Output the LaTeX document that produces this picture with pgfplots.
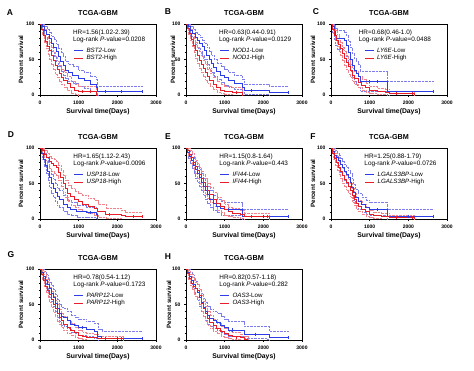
\documentclass[border=0pt]{standalone}
\usepackage{fontspec}
\setmainfont{Liberation Sans}
\usepackage{pgfplots}
\pgfplotsset{compat=1.18}
\definecolor{kmblue}{RGB}{45,62,232}
\definecolor{kmred}{RGB}{232,30,40}
\definecolor{ciblue}{RGB}{125,125,238}
\definecolor{cired}{RGB}{242,130,140}
\pgfplotsset{
 km/.style={scale only axis, width=116pt, height=71pt, anchor=south west,
  xmin=0, xmax=3000, ymin=0, ymax=100,
  axis line style={line width=0.7pt},
  xtick={0,1000,2000,3000}, ytick={0,50,100},
  minor x tick num=9, minor y tick num=4,
  tick align=outside, tick pos=left,
  major tick length=2pt, minor tick length=1.3pt,
  every tick/.style={black, line width=0.5pt},
  ticklabel style={font=\fontsize{5}{5}\selectfont\bfseries},
  /pgf/number format/assume math mode=true,
  /pgf/number format/1000 sep={},
  clip mode=individual},
 lo/.style={kmblue, line width=1pt, const plot, mark=none},
 hi/.style={kmred, line width=1pt, const plot, mark=none},
 loc/.style={kmblue, only marks, mark=|, mark size=1.6pt, mark options={line width=0.5pt}},
 hic/.style={kmred, only marks, mark=|, mark size=1.6pt, mark options={line width=0.5pt}},
 loci/.style={ciblue, line width=0.4pt, const plot, mark=none, dash pattern=on 0.7pt off 0.7pt},
 hici/.style={cired, line width=0.4pt, const plot, mark=none, dash pattern=on 0.7pt off 0.7pt},
}
% #1 HR x, #2 HR text, #3 P text, #4 gene, #5 legend line start, #6 legend line end, #7 legend text x
\newcommand{\kmann}[7]{%
 \node[anchor=west, inner sep=0pt, font=\fontsize{6.4}{7}\selectfont] at (axis cs:#1,88) {HR=#2};
 \node[anchor=west, inner sep=0pt, font=\fontsize{6.4}{7}\selectfont] at (axis cs:#1,77) {Log-rank \textit{P}-value=#3};
 \draw[kmblue, line width=1pt] (axis cs:#5,62.5) -- (axis cs:#6,62.5);
 \draw[kmred, line width=1pt] (axis cs:#5,52) -- (axis cs:#6,52);
 \node[anchor=west, inner sep=0pt, font=\fontsize{6.2}{7}\selectfont] at (axis cs:#7,62.5) {\textit{#4}-Low};
 \node[anchor=west, inner sep=0pt, font=\fontsize{6.2}{7}\selectfont] at (axis cs:#7,52) {\textit{#4}-High};
 \node[font=\fontsize{7.2}{8}\selectfont\bfseries] at ([yshift=11pt]axis description cs:0.5,1) {TCGA-GBM};
 \node[font=\fontsize{6.8}{7}\selectfont\bfseries] at ([yshift=-17pt]axis description cs:0.5,0) {Survival time(Days)};
}
\newcommand{\kmylab}[1]{%
 \node[rotate=90, font=\fontsize{6.2}{7}\selectfont\bfseries] at ([xshift=-#1]axis description cs:0,0.5) {Percent survival};
}
\begin{document}
\begin{tikzpicture}
\path[use as bounding box] (0,0) rectangle (474pt,-370pt);

% ---------------- A ----------------
\begin{axis}[km, at={(40pt,-95pt)}]
\addplot[loci] coordinates {(0,100)(60,100)(120,97)(180,93)(240,88)(300,83)(360,78)(420,72)(480,66)(540,60)(600,54)(660,48)(740,44)(850,40)(1000,35)(1150,32)(1300,26)(1450,22)(1480,13)(2650,13)};
\addplot[loci] coordinates {(0,100)(60,90)(120,82)(180,75)(240,68)(300,61)(360,55)(420,48)(480,41)(540,34)(600,28)(660,23)(740,19)(850,16)(1000,13)(1150,10)(1300,6)(1450,3)(1480,0)(1500,0)};
\addplot[hici] coordinates {(0,100)(50,99)(100,93)(150,86)(200,80)(250,74)(300,67)(350,60)(400,54)(450,48)(500,42)(560,36)(620,32)(700,26)(800,20)(900,15)(1000,12)(1450,12)(1460,0)};
\addplot[hici] coordinates {(0,100)(50,85)(100,75)(150,66)(200,58)(250,50)(300,43)(350,36)(400,30)(450,25)(500,20)(560,15)(620,11)(700,7)(800,3)(900,1)(1000,0)};
\addplot[lo] coordinates {(0,100)(60,96)(120,91)(180,85)(240,79)(300,73)(360,67)(420,61)(480,54)(540,47)(600,41)(660,35)(740,31)(850,27)(1000,23)(1150,20)(1300,15)(1450,11)(1480,5)(2650,5)};
\addplot[hi] coordinates {(0,100)(50,92)(100,84)(150,76)(200,69)(250,62)(300,55)(350,48)(400,42)(450,36)(500,30)(560,25)(620,21)(700,16)(800,11)(900,7)(1000,5)(1450,5)(1460,0)(1500,0)};
\addplot[loc] coordinates {(1700,5)(2100,5)(2650,5)};
\addplot[hic] coordinates {(1100,5)(1300,5)};
\kmann{850}{1.56(1.02-2.39)}{0.0208}{BST2}{890}{1110}{1200}
\kmylab{19pt}
\end{axis}

% ---------------- B ----------------
\begin{axis}[km, at={(186pt,-95pt)}]
\addplot[loci] coordinates {(0,100)(60,100)(120,97)(180,93)(240,89)(300,85)(360,81)(420,77)(480,73)(540,67)(600,61)(660,56)(720,51)(800,45)(900,40)(1000,36)(1100,32)(1250,28)(1450,22)(1500,15)(2100,15)(2150,12)(2650,12)};
\addplot[loci] coordinates {(0,100)(60,90)(120,83)(180,77)(240,71)(300,66)(360,61)(420,56)(480,51)(540,44)(600,38)(660,32)(720,27)(800,22)(900,18)(1000,14)(1100,11)(1250,8)(1450,4)(1500,1)(2100,1)(2150,0)};
\addplot[hici] coordinates {(0,100)(50,99)(100,93)(150,87)(200,80)(250,74)(300,67)(350,61)(400,55)(450,49)(500,43)(560,37)(620,31)(700,25)(800,19)(900,15)(1000,12)(1200,11)(1450,11)(1460,0)};
\addplot[hici] coordinates {(0,100)(50,86)(100,77)(150,69)(200,60)(250,52)(300,45)(350,38)(400,32)(450,27)(500,21)(560,17)(620,12)(700,8)(800,4)(900,2)(1000,1)(1200,0)};
\addplot[lo] coordinates {(0,100)(60,96)(120,91)(180,86)(240,81)(300,77)(360,72)(420,68)(480,63)(540,56)(600,50)(660,44)(720,39)(800,33)(900,28)(1000,24)(1100,20)(1250,16)(1450,11)(1500,6)(2100,6)(2150,3)(2650,3)};
\addplot[hi] coordinates {(0,100)(50,93)(100,86)(150,78)(200,70)(250,63)(300,56)(350,49)(400,43)(450,37)(500,31)(560,26)(620,20)(700,15)(800,10)(900,7)(1000,5)(1200,4)(1450,4)(1460,0)(1480,0)};
\addplot[loc] coordinates {(1700,6)(2650,3)};
\addplot[hic] coordinates {(1300,4)};
\kmann{850}{0.63(0.44-0.91)}{0.0129}{NOD1}{890}{1110}{1200}
\kmylab{13pt}
\end{axis}

% ---------------- C ----------------
\begin{axis}[km, at={(331pt,-95pt)}]
\addplot[loci] coordinates {(0,100)(40,100)(80,98)(120,94)(150,91)(350,89)(400,84)(450,76)(500,67)(550,59)(600,52)(650,47)(700,43)(760,33)(1450,33)(1460,19)(2650,19)};
\addplot[loci] coordinates {(0,100)(40,88)(80,78)(120,70)(150,64)(350,62)(400,54)(450,43)(500,33)(550,25)(600,19)(650,14)(700,11)(760,6)(1450,6)(1460,0)(1500,0)};
\addplot[hici] coordinates {(0,100)(50,97)(100,91)(150,85)(200,80)(250,74)(300,68)(350,62)(400,56)(450,50)(500,44)(550,38)(600,33)(700,27)(800,22)(900,17)(1000,13)(1200,10)(1400,8)(1500,6)(2100,6)(2150,0)};
\addplot[hici] coordinates {(0,100)(50,87)(100,77)(150,69)(200,62)(250,56)(300,49)(350,42)(400,36)(450,30)(500,25)(550,20)(600,15)(700,11)(800,7)(900,4)(1000,2)(1200,1)(1400,0)};
\addplot[lo] coordinates {(0,100)(40,96)(80,90)(120,84)(150,79)(350,77)(400,70)(450,60)(500,50)(550,42)(600,35)(650,30)(700,26)(760,19)(1450,19)(1460,5)(2650,5)};
\addplot[hi] coordinates {(0,100)(50,92)(100,84)(150,77)(200,71)(250,65)(300,58)(350,52)(400,46)(450,40)(500,34)(550,28)(600,23)(700,18)(800,14)(900,10)(1000,7)(1200,5)(1400,3)(1500,2)(2100,2)(2150,0)};
\addplot[loc] coordinates {(1000,19)(1200,19)(2650,5)};
\addplot[hic] coordinates {(1700,2)(2100,2)};
\kmann{715}{0.68(0.46-1.0)}{0.0488}{LY6E}{890}{1100}{1190}
\kmylab{18pt}
\end{axis}

% ---------------- D ----------------
\begin{axis}[km, at={(40pt,-219pt)}]
\addplot[loci] coordinates {(0,100)(50,99)(100,93)(150,87)(200,80)(250,71)(300,63)(350,56)(400,50)(450,44)(500,40)(600,33)(700,27)(800,23)(950,19)(1200,17)(1450,15)(1480,0)};
\addplot[loci] coordinates {(0,100)(50,84)(100,74)(150,65)(200,55)(250,45)(300,37)(350,31)(400,25)(450,20)(500,16)(600,11)(700,7)(800,5)(950,3)(1200,2)(1450,1)(1480,0)};
\addplot[hici] coordinates {(0,100)(60,100)(120,97)(180,93)(240,89)(300,86)(360,84)(420,81)(480,76)(540,69)(600,61)(660,55)(720,48)(800,43)(900,39)(1000,36)(1100,33)(1250,30)(1400,27)(1500,21)(1700,15)(2100,13)(2200,10)(2650,10)};
\addplot[hici] coordinates {(0,100)(60,90)(120,83)(180,77)(240,71)(300,68)(360,64)(420,61)(480,55)(540,46)(600,38)(660,31)(720,25)(800,20)(900,17)(1000,14)(1100,11)(1250,8)(1400,6)(1500,3)(1700,1)(2100,0)};
\addplot[lo] coordinates {(0,100)(50,92)(100,84)(150,76)(200,67)(250,58)(300,50)(350,43)(400,37)(450,31)(500,27)(600,21)(700,16)(800,13)(950,10)(1200,9)(1450,7)(1480,0)(1500,0)};
\addplot[hi] coordinates {(0,100)(60,96)(120,91)(180,86)(240,81)(300,78)(360,75)(420,72)(480,66)(540,58)(600,50)(660,43)(720,36)(800,31)(900,27)(1000,24)(1100,21)(1250,18)(1400,15)(1500,10)(1700,6)(2100,5)(2200,3)(2650,3)};
\addplot[loc] coordinates {(1300,9)};
\addplot[hic] coordinates {(1800,6)(2400,3)(2650,3)};
\kmann{860}{1.65(1.12-2.43)}{0.0096}{USP18}{890}{1110}{1200}
\kmylab{19pt}
\end{axis}

% ---------------- E ----------------
\begin{axis}[km, at={(186pt,-219pt)}]
\addplot[loci] coordinates {(0,100)(50,100)(100,96)(150,91)(200,86)(250,81)(300,75)(350,70)(400,64)(450,58)(500,52)(560,46)(620,40)(700,33)(800,28)(900,25)(1000,23)(1450,23)(1460,14)(2650,14)};
\addplot[loci] coordinates {(0,100)(50,86)(100,78)(150,71)(200,64)(250,58)(300,52)(350,46)(400,40)(450,34)(500,28)(560,22)(620,17)(700,12)(800,9)(900,6)(1000,5)(1450,4)(1460,0)};
\addplot[hici] coordinates {(0,100)(50,100)(100,97)(150,93)(200,88)(250,83)(300,78)(350,73)(400,68)(450,63)(500,57)(560,51)(620,45)(700,38)(800,31)(900,26)(1000,21)(1100,17)(1200,15)(1400,12)(1500,8)(2100,8)(2150,0)};
\addplot[hici] coordinates {(0,100)(50,90)(100,83)(150,77)(200,70)(250,64)(300,57)(350,51)(400,46)(450,41)(500,35)(560,29)(620,24)(700,18)(800,13)(900,9)(1000,6)(1100,4)(1200,2)(1400,1)(1500,0)};
\addplot[lo] coordinates {(0,100)(50,94)(100,88)(150,82)(200,76)(250,70)(300,64)(350,58)(400,52)(450,46)(500,40)(560,34)(620,28)(700,22)(800,18)(900,15)(1000,13)(1450,13)(1460,4)(2650,4)};
\addplot[hi] coordinates {(0,100)(50,96)(100,91)(150,86)(200,80)(250,74)(300,68)(350,62)(400,57)(450,52)(500,46)(560,40)(620,34)(700,28)(800,22)(900,17)(1000,13)(1100,10)(1200,8)(1400,6)(1500,3)(2100,3)(2150,0)};
\addplot[loc] coordinates {(1100,13)(2000,4)(2650,4)};
\addplot[hic] coordinates {(1700,3)(2100,3)};
\kmann{860}{1.15(0.8-1.64)}{0.443}{IFI44}{890}{1110}{1200}
\end{axis}

% ---------------- F ----------------
\begin{axis}[km, at={(331pt,-219pt)}]
\addplot[loci] coordinates {(0,100)(50,100)(100,97)(150,93)(200,90)(250,86)(300,82)(350,77)(400,73)(450,69)(500,64)(540,57)(580,49)(630,42)(700,36)(800,31)(900,27)(1000,24)(1450,24)(1460,14)(2650,14)};
\addplot[loci] coordinates {(0,100)(50,88)(100,81)(150,76)(200,71)(250,66)(300,61)(350,55)(400,50)(450,46)(500,40)(540,33)(580,26)(630,20)(700,14)(800,10)(900,7)(1000,5)(1450,4)(1460,0)};
\addplot[hici] coordinates {(0,100)(50,98)(100,93)(150,88)(200,82)(250,77)(300,71)(350,66)(400,61)(450,56)(500,50)(550,43)(600,37)(650,31)(700,26)(800,21)(900,16)(1000,12)(1100,10)(1300,8)(1500,6)(2100,6)(2150,0)};
\addplot[hici] coordinates {(0,100)(50,84)(100,76)(150,69)(200,63)(250,57)(300,51)(350,46)(400,41)(450,36)(500,31)(550,24)(600,19)(650,14)(700,11)(800,7)(900,4)(1000,2)(1100,1)(1300,0)};
\addplot[lo] coordinates {(0,100)(50,95)(100,90)(150,86)(200,82)(250,77)(300,72)(350,67)(400,62)(450,58)(500,52)(540,45)(580,37)(630,30)(700,24)(800,20)(900,16)(1000,13)(1450,13)(1460,4)(2650,4)};
\addplot[hi] coordinates {(0,100)(50,92)(100,85)(150,79)(200,73)(250,67)(300,61)(350,56)(400,51)(450,46)(500,40)(550,33)(600,27)(650,22)(700,18)(800,14)(900,10)(1000,7)(1100,5)(1300,4)(1500,2)(2100,2)(2150,0)};
\addplot[loc] coordinates {(1200,13)(2000,4)(2650,4)};
\addplot[hic] coordinates {(1700,2)(2100,2)};
\kmann{860}{1.25(0.88-1.79)}{0.0726}{LGALS3BP}{890}{1110}{1200}
\kmylab{18pt}
\end{axis}

% ---------------- G ----------------
\begin{axis}[km, at={(40pt,-340pt)}]
\addplot[loci] coordinates {(0,100)(50,100)(100,97)(150,92)(200,87)(250,82)(300,77)(350,71)(400,64)(450,57)(500,51)(560,46)(620,45)(700,41)(800,35)(900,32)(1000,30)(1200,27)(1400,24)(1500,15)(1600,12)(2650,12)};
\addplot[loci] coordinates {(0,100)(50,87)(100,80)(150,73)(200,67)(250,60)(300,54)(350,47)(400,40)(450,32)(500,26)(560,21)(620,20)(700,16)(800,11)(900,9)(1000,7)(1200,5)(1400,3)(1500,0)};
\addplot[hici] coordinates {(0,100)(50,98)(100,92)(150,86)(200,81)(250,75)(300,69)(350,62)(400,56)(450,50)(500,44)(550,38)(600,33)(700,28)(800,23)(900,18)(1000,14)(1100,11)(1200,9)(1400,8)(1500,6)(2100,6)(2150,0)};
\addplot[hici] coordinates {(0,100)(50,85)(100,76)(150,67)(200,60)(250,53)(300,46)(350,39)(400,33)(450,27)(500,22)(550,18)(600,14)(700,10)(800,7)(900,4)(1000,2)(1100,1)(1200,0)};
\addplot[lo] coordinates {(0,100)(50,95)(100,90)(150,84)(200,78)(250,72)(300,66)(350,60)(400,52)(450,44)(500,38)(560,33)(620,32)(700,28)(800,22)(900,20)(1000,18)(1200,15)(1400,12)(1500,5)(1600,2)(2650,2)};
\addplot[hi] coordinates {(0,100)(50,92)(100,84)(150,76)(200,70)(250,64)(300,57)(350,50)(400,44)(450,38)(500,32)(550,27)(600,22)(700,18)(800,14)(900,10)(1000,7)(1100,5)(1200,3)(1400,3)(1500,2)(2100,2)(2150,0)};
\addplot[loc] coordinates {(1100,18)(2000,2)(2650,2)};
\addplot[hic] coordinates {(1700,2)(2100,2)};
\kmann{860}{0.78(0.54-1.12)}{0.1723}{PARP12}{890}{1110}{1200}
\kmylab{19pt}
\end{axis}

% ---------------- H ----------------
\begin{axis}[km, at={(186pt,-340pt)}]
\addplot[loci] coordinates {(0,100)(50,100)(100,96)(150,92)(200,87)(250,83)(300,78)(350,72)(400,66)(450,59)(500,53)(560,47)(620,43)(700,40)(800,38)(900,34)(1000,30)(1100,27)(1450,27)(1500,20)(2100,20)(2150,13)(2650,13)};
\addplot[loci] coordinates {(0,100)(50,87)(100,80)(150,74)(200,68)(250,62)(300,56)(350,48)(400,40)(450,34)(500,28)(560,22)(620,19)(700,16)(800,14)(900,11)(1000,8)(1100,6)(1450,5)(1500,2)(2100,1)(2150,0)};
\addplot[hici] coordinates {(0,100)(50,98)(100,93)(150,88)(200,84)(250,81)(300,79)(350,72)(400,63)(450,55)(500,48)(560,41)(620,35)(700,29)(800,24)(900,20)(1000,16)(1100,13)(1200,11)(1400,8)(1500,5)(1600,0)};
\addplot[hici] coordinates {(0,100)(50,86)(100,77)(150,71)(200,65)(250,62)(300,60)(350,51)(400,41)(450,33)(500,27)(560,21)(620,16)(700,12)(800,9)(900,6)(1000,4)(1100,2)(1200,1)(1400,0)};
\addplot[lo] coordinates {(0,100)(50,95)(100,89)(150,84)(200,78)(250,73)(300,67)(350,60)(400,53)(450,46)(500,40)(560,34)(620,30)(700,27)(800,25)(900,21)(1000,17)(1100,14)(1450,14)(1500,8)(2100,8)(2150,3)(2650,3)};
\addplot[hi] coordinates {(0,100)(50,93)(100,86)(150,80)(200,75)(250,72)(300,70)(350,62)(400,52)(450,44)(500,37)(560,30)(620,25)(700,20)(800,16)(900,12)(1000,9)(1100,7)(1200,5)(1400,3)(1500,1)(1600,0)};
\addplot[loc] coordinates {(1200,14)(1800,8)(2650,3)};
\addplot[hic] coordinates {(1300,3)};
\kmann{860}{0.82(0.57-1.18)}{0.282}{OAS3}{890}{1110}{1200}
\kmylab{17pt}
\end{axis}

% panel letters
\begin{scope}[every node/.style={font=\fontsize{8.5}{9}\selectfont\bfseries}]
\node at (10pt,-13pt) {A};
\node at (168pt,-12pt) {B};
\node at (316pt,-12pt) {C};
\node at (11pt,-135pt) {D};
\node at (168pt,-137pt) {E};
\node at (313pt,-137pt) {F};
\node at (11pt,-255pt) {G};
\node at (168pt,-257pt) {H};
\end{scope}
\end{tikzpicture}
\end{document}
